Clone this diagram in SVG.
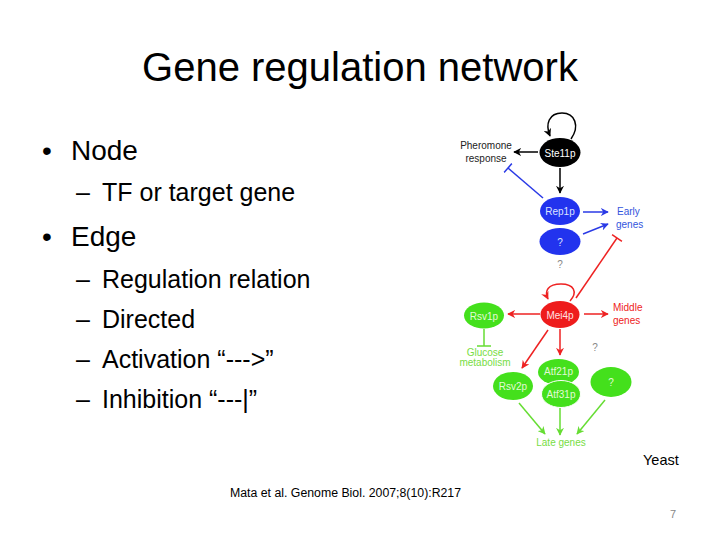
<svg xmlns="http://www.w3.org/2000/svg" width="720" height="540" viewBox="0 0 720 540">
<style>
.t{font-family:"Liberation Sans",Arial,sans-serif;}
.b{font-size:28px;fill:#000;}
.s{font-size:25px;fill:#000;}
.d{font-size:10px;}
.k{stroke:#000;stroke-width:1.5;fill:none;}
.bl{stroke:#2a3ae6;stroke-width:1.5;fill:none;}
.rd{stroke:#ee2222;stroke-width:1.5;fill:none;}
.gr{stroke:#66dd33;stroke-width:1.5;fill:none;}
</style>
<defs>
<marker id="ak" viewBox="0 0 10 10" refX="9" refY="5" markerWidth="8" markerHeight="8" markerUnits="userSpaceOnUse" orient="auto"><path d="M0,0 L10,5 L0,10 L3,5 z" fill="#000"/></marker>
<marker id="ab" viewBox="0 0 10 10" refX="9" refY="5" markerWidth="8" markerHeight="8" markerUnits="userSpaceOnUse" orient="auto"><path d="M0,0 L10,5 L0,10 L3,5 z" fill="#2a3ae6"/></marker>
<marker id="ar" viewBox="0 0 10 10" refX="9" refY="5" markerWidth="8" markerHeight="8" markerUnits="userSpaceOnUse" orient="auto"><path d="M0,0 L10,5 L0,10 L3,5 z" fill="#ee2222"/></marker>
<marker id="ag" viewBox="0 0 10 10" refX="9" refY="5" markerWidth="8" markerHeight="8" markerUnits="userSpaceOnUse" orient="auto"><path d="M0,0 L10,5 L0,10 L3,5 z" fill="#66dd33"/></marker>
<marker id="ib" viewBox="0 0 4 12" refX="2" refY="6" markerWidth="4" markerHeight="12" markerUnits="userSpaceOnUse" orient="auto"><path d="M2,0 L2,12" stroke="#2a3ae6" stroke-width="1.5"/></marker>
<marker id="ir" viewBox="0 0 4 12" refX="2" refY="6" markerWidth="4" markerHeight="12" markerUnits="userSpaceOnUse" orient="auto"><path d="M2,0 L2,12" stroke="#ee2222" stroke-width="1.5"/></marker>
<marker id="ig" viewBox="0 0 4 14" refX="2" refY="7" markerWidth="4" markerHeight="14" markerUnits="userSpaceOnUse" orient="auto"><path d="M2,0 L2,14" stroke="#66dd33" stroke-width="1.5"/></marker>
</defs>
<rect width="720" height="540" fill="#fff"/>

<text class="t" x="360" y="81" font-size="40" text-anchor="middle" fill="#000">Gene regulation network</text>

<g id="bullets">
<text class="t b" x="42" y="160">•</text>
<text class="t b" x="71" y="160">Node</text>
<text class="t s" x="76" y="201">–</text><text class="t s" x="102" y="201">TF or target gene</text>
<text class="t b" x="42" y="246">•</text>
<text class="t b" x="71" y="246">Edge</text>
<text class="t s" x="76" y="288">–</text><text class="t s" x="102" y="288">Regulation relation</text>
<text class="t s" x="76" y="328">–</text><text class="t s" x="102" y="328">Directed</text>
<text class="t s" x="76" y="368">–</text><text class="t s" x="102" y="368">Activation “---&gt;”</text>
<text class="t s" x="76" y="408">–</text><text class="t s" x="102" y="408">Inhibition “---|”</text>
</g>

<g id="connectors">
<path class="k" d="M571,139 C580,126 575,113 562,113 C549,113 545,124 550,136" marker-end="url(#ak)"/>
<path class="k" d="M538,152 L514,152" marker-end="url(#ak)"/>
<path class="k" d="M560,168 L560,193" marker-end="url(#ak)"/>
<path class="bl" d="M543,198 L508,168" marker-end="url(#ib)"/>
<path class="bl" d="M583,212 L608,212" marker-end="url(#ab)"/>
<path class="bl" d="M583,234 L608,224" marker-end="url(#ab)"/>
<path class="rd" d="M576,298 L617,238" marker-end="url(#ir)"/>
<path class="rd" d="M570,301 C578,292 574,284 561,284 C548,284 544,291 548,299" marker-end="url(#ar)"/>
<path class="rd" d="M540,314 L508,314" marker-end="url(#ar)"/>
<path class="rd" d="M584,314 L608,314" marker-end="url(#ar)"/>
<path class="rd" d="M560,329 L560,355" marker-end="url(#ar)"/>
<path class="rd" d="M548,330 L522,368" marker-end="url(#ar)"/>
<path class="gr" d="M484,329 L484,346" marker-end="url(#ig)"/>
<path class="gr" d="M519,403 L545,434" marker-end="url(#ag)"/>
<path class="gr" d="M560,408 L560,435" marker-end="url(#ag)"/>
<path class="gr" d="M605,400 L577,434" marker-end="url(#ag)"/>
</g>

<g id="pheromone"><text class="t d" x="486" y="149" text-anchor="middle" fill="#222">Pheromone</text><text class="t d" x="486" y="162" text-anchor="middle" fill="#222">response</text></g>
<g id="ste11p"><ellipse cx="560" cy="152.5" rx="20.5" ry="14.5" fill="#000"/><text class="t d" x="560" y="156.5" text-anchor="middle" fill="#fff">Ste11p</text></g>
<g id="rep1p"><ellipse cx="560" cy="211" rx="20" ry="14" fill="#2233ee"/><text class="t d" x="560" y="215" text-anchor="middle" fill="#dde4ff">Rep1p</text></g>
<g id="unknown-blue"><ellipse cx="560" cy="241.5" rx="20.5" ry="13.5" fill="#2233ee"/><text class="t d" x="560" y="245.5" text-anchor="middle" fill="#dde4ff">?</text></g>
<g id="q1"><text class="t d" x="560" y="268" text-anchor="middle" fill="#888">?</text></g>
<g id="early"><text class="t d" x="617" y="215" fill="#3355dd">Early</text><text class="t d" x="616" y="228" fill="#3355dd">genes</text></g>
<g id="mei4p"><ellipse cx="560" cy="314.5" rx="19.5" ry="13.5" fill="#ee1c1c"/><text class="t d" x="560" y="318.5" text-anchor="middle" fill="#ffe0e0">Mei4p</text></g>
<g id="middle"><text class="t d" x="613" y="311" fill="#ee2222">Middle</text><text class="t d" x="613" y="324" fill="#ee2222">genes</text></g>
<g id="rsv1p"><ellipse cx="484" cy="315.5" rx="20" ry="13" fill="#44e01c"/><text class="t d" x="484" y="319.5" text-anchor="middle" fill="#e2fad6">Rsv1p</text></g>
<g id="glucose"><text class="t d" x="485" y="356" text-anchor="middle" fill="#77dd44">Glucose</text><text class="t d" x="485" y="366" text-anchor="middle" fill="#77dd44">metabolism</text></g>
<g id="q2"><text class="t d" x="595" y="351" text-anchor="middle" fill="#888">?</text></g>
<g id="rsv2p"><ellipse cx="513" cy="386" rx="20" ry="14" fill="#44e01c"/><text class="t d" x="513" y="390" text-anchor="middle" fill="#e2fad6">Rsv2p</text></g>
<g id="atf21p"><ellipse cx="558.5" cy="372" rx="20.5" ry="13" fill="#44e01c"/><text class="t d" x="558.5" y="375" text-anchor="middle" fill="#e2fad6">Atf21p</text></g>
<g id="atf31p"><ellipse cx="561" cy="394" rx="19.5" ry="13.5" fill="#44e01c" stroke="#fff" stroke-width="1"/><text class="t d" x="561" y="398" text-anchor="middle" fill="#e2fad6">Atf31p</text></g>
<g id="unknown-green"><ellipse cx="611" cy="382" rx="20.5" ry="15" fill="#44e01c"/><text class="t d" x="611" y="386" text-anchor="middle" fill="#e2fad6">?</text></g>
<g id="late"><text class="t d" x="561" y="446" text-anchor="middle" fill="#77dd44">Late genes</text></g>

<text class="t" x="643" y="465" font-size="14.5" fill="#000">Yeast</text>
<text class="t" x="230" y="497" font-size="12.3" fill="#000">Mata et al. Genome Biol. 2007;8(10):R217</text>
<text class="t" x="673" y="518" font-size="11" text-anchor="middle" fill="#888">7</text>
</svg>
